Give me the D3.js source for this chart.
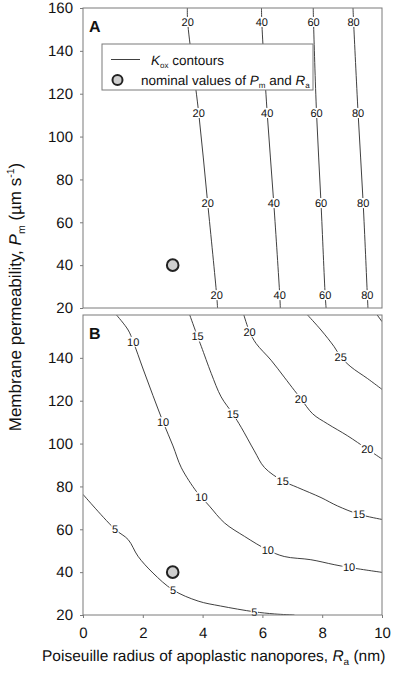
<!DOCTYPE html>
<html>
<head>
<meta charset="utf-8">
<script src="https://cdn.jsdelivr.net/npm/d3@7"></script>
<style>
  html, body { margin: 0; padding: 0; background: #fff; }
  svg { display: block; font-family: Arial, "Liberation Sans", sans-serif; text-rendering: geometricPrecision; -webkit-font-smoothing: antialiased; }
</style>
</head>
<body>
<svg id="chart" width="395" height="673"></svg>
<script>
// ---------------- DATA ----------------
const raTicks = [0, 2, 4, 6, 8, 10];
const pmTicksA = [20, 40, 60, 80, 100, 120, 140, 160];
const pmTicksB = [20, 40, 60, 80, 100, 120, 140];
const nominalPoint = [3, 40]; // [Ra, Pm]

// Panel A contours (Kox), [Ra, Pm]
const contourA20 = [[3.49,160],[3.5,153.5],[3.87,111],[4.17,69],[4.47,26],[4.5,20]];
const contourA40 = [[5.97,160],[5.98,153.5],[6.16,111],[6.38,69],[6.58,26],[6.6,20]];
const contourA60 = [[7.7,160],[7.71,153.5],[7.81,111],[7.96,69],[8.1,26],[8.13,20]];
const contourA80 = [[9.03,160],[9.05,153.5],[9.2,111],[9.37,69],[9.51,26],[9.53,20]];
const labelsA20 = [[3.5,153.5],[3.87,111],[4.17,69],[4.47,26]];
const labelsA40 = [[5.98,153.5],[6.16,111],[6.38,69],[6.58,26]];
const labelsA60 = [[7.71,153.5],[7.81,111],[7.96,69],[8.1,26]];
const labelsA80 = [[9.05,153.5],[9.2,111],[9.37,69],[9.51,26]];

// Panel B contours
const contourB5 = [[0,76.3],[1.07,60],[1.51,55.2],[1.84,47.4],[2.34,39.6],[3.01,31.7],[3.85,26.5],[4.6,24.2],[5.73,21.5],[6.4,20.5],[7.07,20]];
const contourB10 = [[1.12,160],[1.51,153],[1.68,147.5],[2.01,134.8],[2.34,122.4],[2.68,110],[3.01,98.9],[3.29,88.7],[3.79,77.7],[3.96,75],[4.23,70.8],[4.73,63],[5.4,56.7],[6.18,50.3],[6.73,47.3],[7.62,45.8],[8.4,43.5],[8.9,42.2],[10,39.9]];
const contourB15 = [[3.57,160],[3.83,150],[3.96,145.2],[4.29,132.7],[4.62,121.8],[5.01,113.9],[5.29,107.6],[5.73,96.6],[6.07,88.8],[6.68,82.6],[7.18,79.5],[7.96,74.8],[8.51,70.9],[9.23,67],[10,64.6]];
const contourB20 = [[5.38,160],[5.57,152.2],[5.79,146.7],[6.29,138.9],[6.73,131],[7.07,124.8],[7.29,120.9],[7.68,113.9],[8.18,109.2],[8.84,103.7],[9.51,97.4],[10,92.8]];
const contourB25 = [[7.51,160],[7.96,153],[8.4,145.2],[8.62,140.5],[8.96,135.8],[9.51,130.4],[10,125.3]];
const contourB30 = [[9.84,160],[10,156.9]];
const labelsB5 = [[1.07,60],[3.01,31.7],[5.73,21.5]];
const labelsB10 = [[1.68,147.5],[2.68,110],[3.96,75],[6.18,50.3],[8.9,42.2]];
const labelsB15 = [[3.83,150],[5.01,113.9],[6.68,82.6],[9.23,67]];
const labelsB20 = [[5.57,152.2],[7.29,120.9],[9.51,97.4]];
const labelsB25 = [[8.62,140.5]];

// ---------------- LAYOUT ----------------
const svg = d3.select("#chart");
const frameColor = "#7a7a7a";
const lineColor = "#2a2a2a";
const textColor = "#111";
const FONT = "Arial, 'Liberation Sans', sans-serif";

const x = d3.scaleLinear().domain([0, 10]).range([83, 382]);
const yA = d3.scaleLinear().domain([20, 160]).range([308, 8]);
const yB = d3.scaleLinear().domain([20, 160]).range([615, 315]);

function panel(id, y, yTicks, contours, labels, showX) {
  const g = svg.append("g");
  const clipId = "clip" + id;
  svg.append("clipPath").attr("id", clipId).append("rect")
    .attr("x", x(0)).attr("y", y(160)).attr("width", x(10) - x(0)).attr("height", y(20) - y(160));

  const line = d3.line().x(d => x(d[0])).y(d => y(d[1])).curve(d3.curveCatmullRom.alpha(0.5));
  const cg = g.append("g").attr("clip-path", `url(#${clipId})`);
  contours.forEach(c => {
    cg.append("path").attr("d", line(c.pts)).attr("fill", "none")
      .attr("stroke", lineColor).attr("stroke-width", 0.9);
  });
  const lgAll = g.append("g");
  labels.forEach(l => {
    l.pts.forEach(p => {
      const lg = lgAll.append("g").attr("transform", `translate(${x(p[0])},${y(p[1])})`);
      const w = l.text.length * 6.2 + 1;
      lg.append("rect").attr("x", -w / 2).attr("y", -5).attr("width", w).attr("height", 10).attr("fill", "#fff");
      lg.append("text").text(l.text).attr("text-anchor", "middle").attr("dy", "0.36em")
        .attr("font-size", 11).attr("fill", textColor);
    });
  });

  const ay = g.append("g").attr("transform", `translate(${x(0)},0)`)
    .call(d3.axisLeft(y).tickValues(yTicks).tickSize(3).tickPadding(7).tickFormat(d3.format("d")));
  ay.select(".domain").remove();
  ay.selectAll("line").attr("stroke", frameColor);
  ay.selectAll("text").attr("font-size", 15).attr("fill", textColor).attr("font-family", FONT);

  if (showX) {
    const ax = g.append("g").attr("transform", `translate(0,${y(20)})`)
      .call(d3.axisBottom(x).tickValues(raTicks).tickSize(3).tickPadding(9).tickFormat(d3.format("d")));
    ax.select(".domain").remove();
    ax.selectAll("line").attr("stroke", frameColor);
    ax.selectAll("text").attr("font-size", 15).attr("fill", textColor).attr("font-family", FONT);
  }

  g.append("rect").attr("x", x(0)).attr("y", y(160)).attr("width", x(10) - x(0)).attr("height", y(20) - y(160))
    .attr("fill", "none").attr("stroke", frameColor).attr("stroke-width", 1);

  g.append("circle").attr("cx", x(nominalPoint[0])).attr("cy", y(nominalPoint[1])).attr("r", 5.8)
    .attr("fill", "#cfcfcf").attr("stroke", "#222").attr("stroke-width", 2);

  g.append("text").text(id).attr("x", 89).attr("y", y(160) + 24)
    .attr("font-size", 16).attr("font-weight", "bold").attr("fill", textColor);
  return g;
}

panel("A", yA, pmTicksA,
  [{pts: contourA20}, {pts: contourA40}, {pts: contourA60}, {pts: contourA80}],
  [{text: "20", pts: labelsA20}, {text: "40", pts: labelsA40}, {text: "60", pts: labelsA60}, {text: "80", pts: labelsA80}],
  false);

panel("B", yB, pmTicksB,
  [{pts: contourB5}, {pts: contourB10}, {pts: contourB15}, {pts: contourB20}, {pts: contourB25}, {pts: contourB30}],
  [{text: "5", pts: labelsB5}, {text: "10", pts: labelsB10}, {text: "15", pts: labelsB15}, {text: "20", pts: labelsB20}, {text: "25", pts: labelsB25}],
  true);

// legend (panel A)
const leg = svg.append("g");
leg.append("rect").attr("x", 102).attr("y", 44).attr("width", 211).attr("height", 46)
  .attr("fill", "#fff").attr("stroke", frameColor).attr("stroke-width", 1);
leg.append("line").attr("x1", 111).attr("x2", 140).attr("y1", 59.5).attr("y2", 59.5)
  .attr("stroke", lineColor).attr("stroke-width", 0.9);
const t1 = leg.append("text").attr("x", 151).attr("y", 64.5).attr("font-size", 13.5).attr("fill", textColor);
t1.append("tspan").attr("font-style", "italic").text("K");
t1.append("tspan").attr("font-size", 8).attr("dy", 3).text("ox");
t1.append("tspan").attr("dy", -3).text(" contours");
leg.append("circle").attr("cx", 117.5).attr("cy", 80).attr("r", 5)
  .attr("fill", "#cfcfcf").attr("stroke", "#222").attr("stroke-width", 2);
const t2 = leg.append("text").attr("x", 141).attr("y", 84.5).attr("font-size", 13.5).attr("fill", textColor);
t2.append("tspan").text("nominal values of ");
t2.append("tspan").attr("font-style", "italic").text("P");
t2.append("tspan").attr("font-size", 8).attr("dy", 3).text("m");
t2.append("tspan").attr("dy", -3).text(" and ");
t2.append("tspan").attr("font-style", "italic").text("R");
t2.append("tspan").attr("font-size", 8).attr("dy", 3).text("a");

// axis titles
const yt = svg.append("text").attr("transform", "translate(21,297) rotate(-90)")
  .attr("text-anchor", "middle").attr("font-size", 17).attr("fill", textColor);
yt.append("tspan").text("Membrane permeability, ");
yt.append("tspan").attr("font-style", "italic").text("P");
yt.append("tspan").attr("font-size", 10.5).attr("dy", 4).text("m");
yt.append("tspan").attr("dy", -4).text(" (µm s");
yt.append("tspan").attr("font-size", 10.5).attr("dy", -7).text("-1");
yt.append("tspan").attr("dy", 7).text(")");

const xt = svg.append("text").attr("x", 42).attr("y", 661)
  .attr("font-size", 15.5).attr("fill", textColor);
xt.append("tspan").text("Poiseuille radius of apoplastic nanopores, ");
xt.append("tspan").attr("font-style", "italic").text("R");
xt.append("tspan").attr("font-size", 10).attr("dy", 4).text("a");
xt.append("tspan").attr("dy", -4).text(" (nm)");
</script>
</body>
</html>
